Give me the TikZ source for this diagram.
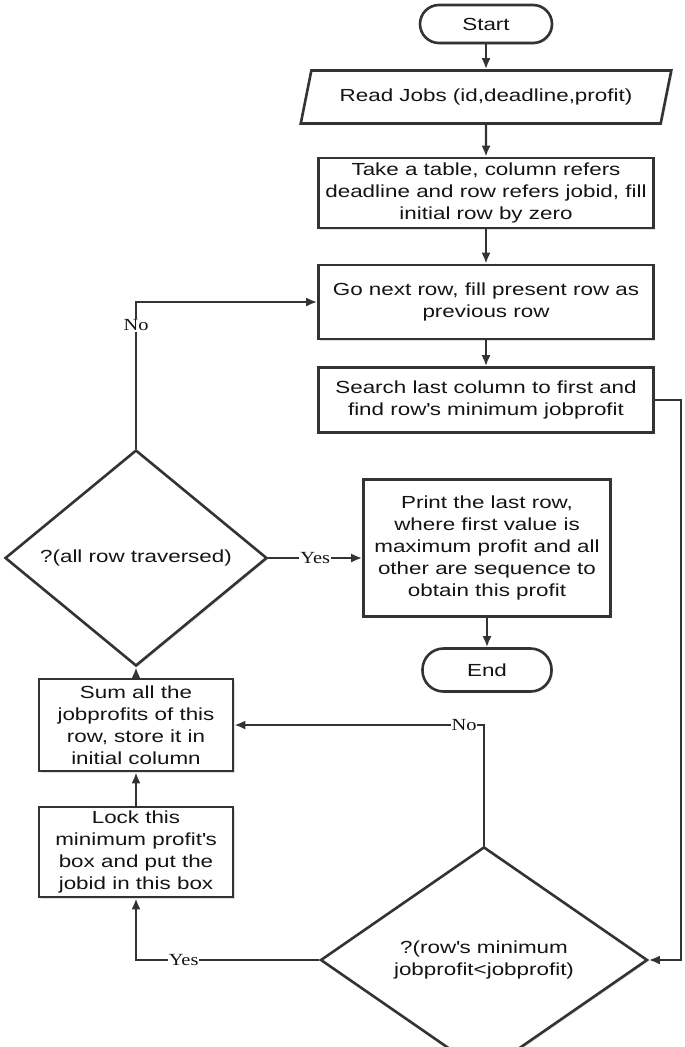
\documentclass[tikz,border=0pt]{standalone}
\usepackage{fontspec}
\setmainfont{Liberation Sans}[FakeStretch=1.28]
\newfontfamily\lblfont{Liberation Serif}[FakeStretch=1.2]
\usepackage{tikz}
\usetikzlibrary{positioning}
\usetikzlibrary{arrows.meta}
\usetikzlibrary{shapes.geometric}
\usetikzlibrary{shadows}
\definecolor{line-gray}{RGB}{51,51,51}
\definecolor{text-gray}{RGB}{20,20,20}

\begin{document}
\begin{tikzpicture}[x=1pt, y=-1pt, >={Latex[length=11pt,width=9pt]},
shadowed/.style={drop shadow={opacity=0.25, shadow xshift=1.5pt, shadow yshift=-1.5pt}},
block/.style={rectangle, draw=line-gray, line width=2.6pt, fill=white, shadowed, text=text-gray, align=center, inner sep=2pt, font=\fontsize{17.5}{22}\selectfont},
terminal/.style={block, rounded corners=19pt},
io/.style={block, trapezium, trapezium left angle=66, trapezium right angle=114, trapezium stretches=true},
decision/.style={block, diamond},
flow/.style={->, draw=line-gray, line width=2.4pt},
lbl/.style={fill=white, text=text-gray, inner sep=1pt, font=\lblfont\fontsize{17}{17}\selectfont}]
\useasboundingbox (0,0) rectangle (685,1047);

% main column
\node [terminal, minimum width=132pt, minimum height=38pt] (start) at (486,24) {Start};
\node [io, minimum width=371pt, minimum height=53pt] (read) at (486,97) {Read Jobs (id,deadline,profit)};
\node [block, minimum width=335pt, minimum height=70pt] (table) at (486,193) {Take a table, column refers\\deadline and row refers jobid, fill\\initial row by zero};
\node [block, minimum width=335pt, minimum height=74pt] (next) at (486,302) {Go next row, fill present row as\\previous row};
\node [block, minimum width=335pt, minimum height=65pt] (search) at (486,400) {Search last column to first and\\find row\textquotesingle s minimum jobprofit};

% output branch
\node [block, minimum width=247pt, minimum height=137pt] (print) at (487,548) {Print the last row,\\where first value is\\maximum profit and all\\other are sequence to\\obtain this profit};
\node [terminal, minimum width=129pt, minimum height=43pt, rounded corners=21pt] (end) at (487,670) {End};

%%%%%%%%%%%%%%%%%%%%%%%% decisions
\node [decision, minimum width=262pt, minimum height=114pt] (traversed) at (136,558) {?(all row traversed)};
\node [decision, minimum width=327pt, minimum height=157pt] (compare) at (484,960) {?(row\textquotesingle s minimum\\jobprofit<jobprofit)};

% left column
\node [block, minimum width=194pt, minimum height=92pt] (sum) at (136,725) {Sum all the\\jobprofits of this\\row, store it in\\initial column};
\node [block, minimum width=194pt, minimum height=90pt] (lock) at (136,852) {Lock this\\minimum profit\textquotesingle s\\box and put the\\jobid in this box};

% right side line
\coordinate (rside) at (681,400);

% arrows down the main column
\draw [flow] (start) -- (read);
\draw [flow] (read) -- (table);
\draw [flow] (table) -- (next);
\draw [flow] (next) -- (search);
\draw [flow] (print) -- (end);

% around the right side
\draw [flow] (search.east) -- (rside) |- (compare.east);

% compare: yes and no
\draw [flow] (compare.west) -| node [lbl, pos=0.37] {Yes} (lock.south);
\draw [flow] (compare.north) |- node [lbl, pos=0.54] {No} (sum.east);
\draw [flow] (lock) -- (sum);
\draw [flow] (sum) -- (traversed);

% traversed: yes and no
\draw [flow] (traversed.north) |- node [lbl, pos=0.42] {No} (next.west);
\draw [flow] (traversed.east) -- node [lbl] {Yes} (traversed.east -| print.west);

\end{tikzpicture}
\end{document}
